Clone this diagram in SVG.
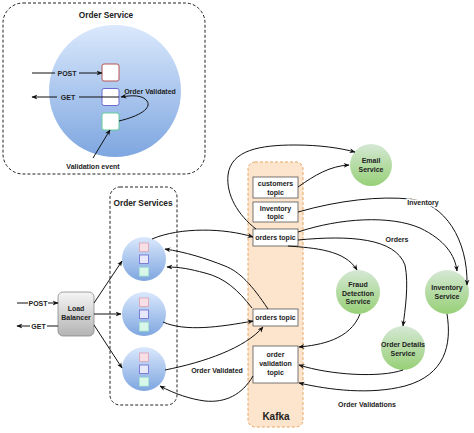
<svg xmlns="http://www.w3.org/2000/svg" width="474" height="433" viewBox="0 0 474 433">
<defs>
<linearGradient id="gb" x1="0" y1="0" x2="0" y2="1"><stop offset="0" stop-color="#dae8fc"/><stop offset="1" stop-color="#7ea6e0"/></linearGradient>
<linearGradient id="gg" x1="0" y1="0" x2="0" y2="1"><stop offset="0" stop-color="#d5e8d4"/><stop offset="1" stop-color="#97d077"/></linearGradient>
<linearGradient id="gl" x1="0" y1="0" x2="0" y2="1"><stop offset="0" stop-color="#f5f5f5"/><stop offset="1" stop-color="#b3b3b3"/></linearGradient>
<marker id="a" viewBox="0 0 10 10" refX="9" refY="5" markerWidth="6" markerHeight="6" orient="auto" markerUnits="userSpaceOnUse"><path d="M0,1 L10,5 L0,9 L3,5 z" fill="#111"/></marker>
<g id="mini">
<rect x="-4.5" y="-16" width="9" height="8.5" fill="#f8dfe6" stroke="#d9a0b0" stroke-width="0.8"/>
<rect x="-4.5" y="-4" width="9" height="8.5" fill="#e8e8fb" stroke="#6a6ad0" stroke-width="0.8"/>
<rect x="-4.5" y="8.5" width="9" height="8.5" fill="#d8f7ea" stroke="#a8e6cc" stroke-width="0.8"/>
</g>
</defs>
<style>
text{font-family:"Liberation Sans",Arial,sans-serif;font-weight:bold;fill:#222;text-anchor:middle}
.s{font-size:7px}
.t{font-size:8.3px}
.dash{fill:none;stroke:#222;stroke-width:1;stroke-dasharray:3,2}
.c{fill:none;stroke:#111;stroke-width:1}
.ar{marker-end:url(#a)}
.topic{fill:#fff;stroke:#555;stroke-width:0.8}
.halo{paint-order:stroke;stroke:#fff;stroke-width:3px}
</style>

<g id="order-service">
<rect x="3" y="3" width="202" height="171" rx="20" class="dash"/>
<text x="106" y="18" class="t">Order Service</text>
<circle cx="115" cy="91" r="66" fill="url(#gb)"/>
<rect x="102" y="64" width="17" height="17" rx="2" fill="#fff" stroke="#b85450" stroke-width="1"/>
<rect x="102" y="88.5" width="17" height="17" rx="2" fill="#fff" stroke="#6a6ad0" stroke-width="1"/>
<rect x="102" y="113" width="17" height="17" rx="2" fill="#fff" stroke="#66cc99" stroke-width="1"/>
<text x="150" y="93.5" class="s">Order Validated</text>
<text x="93" y="169" class="s">Validation event</text>
<text x="67" y="76" class="s">POST</text>
<text x="68" y="100" class="s">GET</text>
</g>

<g id="order-services">
<rect x="110" y="187" width="67" height="218" rx="10" class="dash"/>
<text x="143" y="206" class="t">Order Services</text>
</g>
<g id="os1"><circle cx="144" cy="259" r="22" fill="url(#gb)"/><use href="#mini" x="144" y="259"/></g>
<g id="os2"><circle cx="144" cy="314" r="22" fill="url(#gb)"/><use href="#mini" x="144" y="314"/></g>
<g id="os3"><circle cx="144" cy="369" r="22" fill="url(#gb)"/><use href="#mini" x="144" y="369"/></g>

<g id="load-balancer">
<rect x="58" y="292" width="36" height="44" rx="5" fill="url(#gl)" stroke="#888" stroke-width="0.8"/>
<text x="76" y="311" class="s">Load</text>
<text x="76" y="320" class="s">Balancer</text>
<text x="38" y="305.5" class="s">POST</text>
<text x="38.5" y="328.5" class="s">GET</text>
</g>

<g id="kafka">
<rect x="248" y="162" width="55" height="265" rx="7" fill="#fde4cc" stroke="#e6a865" stroke-width="1" stroke-dasharray="3,2"/>
<text x="276" y="420" style="font-size:10px">Kafka</text>
</g>
<g id="customers-topic"><rect x="253" y="177" width="45" height="21" class="topic"/><text x="275.5" y="186" class="s">customers</text><text x="275.5" y="194.5" class="s">topic</text></g>
<g id="inventory-topic"><rect x="253" y="202" width="45" height="20" class="topic"/><text x="275.5" y="210.5" class="s">Inventory</text><text x="275.5" y="219" class="s">topic</text></g>
<g id="orders-topic-1"><rect x="253" y="229" width="45" height="17" class="topic"/><text x="275.5" y="240" class="s">orders topic</text></g>
<g id="orders-topic-2"><rect x="253" y="309" width="45" height="17" class="topic"/><text x="275.5" y="320" class="s">orders topic</text></g>
<g id="order-validation-topic"><rect x="253" y="346" width="45" height="37" class="topic"/><text x="275.5" y="357" class="s">order</text><text x="275.5" y="366" class="s">validation</text><text x="275.5" y="375" class="s">topic</text></g>

<g id="email-service"><circle cx="371" cy="165" r="21" fill="url(#gg)"/><text x="371" y="163" class="s">Email</text><text x="371" y="172" class="s">Service</text></g>
<g id="fraud-detection-service"><circle cx="358" cy="292" r="22" fill="url(#gg)"/><text x="358" y="287" class="s">Fraud</text><text x="358" y="295.5" class="s">Detection</text><text x="358" y="304" class="s">Service</text></g>
<g id="inventory-service"><circle cx="447" cy="292" r="22" fill="url(#gg)"/><text x="447" y="290" class="s">Inventory</text><text x="447" y="299" class="s">Service</text></g>
<g id="order-details-service"><circle cx="403" cy="348" r="22" fill="url(#gg)"/><text x="403" y="347" class="s">Order Details</text><text x="403" y="356" class="s">Service</text></g>

<g id="connectors">
<path class="c" d="M32,73 H55"/>
<path class="c ar" d="M79,73 H102"/>
<path class="c" d="M119,97 H79"/>
<path class="c ar" d="M57,97 H32"/>
<path class="c ar" d="M119,121 C140,116 152,108 147,101 C143,95 132,95 121,97"/>
<path class="c ar" d="M93,158 L110,130"/>

<path class="c" d="M17,303 H28"/>
<path class="c ar" d="M48,303 H58"/>
<path class="c" d="M58,326 H47"/>
<path class="c ar" d="M30,326 H17"/>
<path class="c ar" d="M94,303 L122,261"/>
<path class="c ar" d="M94,314 L121,314"/>
<path class="c ar" d="M94,325 L122,368"/>

<path class="c ar" d="M152,239 C180,227 225,228 253,237"/>
<path class="c ar" d="M268,309 C252,285 240,272 225,266 C205,258 185,252 165,249"/>
<path class="c ar" d="M252,308 C238,290 225,278 205,273 C190,269 180,267 167,267"/>
<path class="c ar" d="M163,322 C185,332 220,327 253,321"/>
<path class="c ar" d="M165,370 C205,362 245,348 263,327"/>
<path class="c ar" d="M253,376 C242,395 225,403 205,401 C190,399 175,394 160,386"/>

<path class="c ar" d="M256,229 C238,215 226,195 228,175 C231,150 260,145 295,145 C320,145 340,148 355,152"/>
<path class="c ar" d="M298,187 C315,175 330,166 349,165"/>
<path class="c ar" d="M298,212 C340,200 380,196 410,199 C445,203 468,240 467,285"/>
<path class="c ar" d="M298,232 C340,218 390,215 420,228 C445,240 455,255 457,271"/>
<path class="c ar" d="M298,240 C350,235 395,238 405,265 C409,285 405,310 403,326"/>
<path class="c ar" d="M288,246 C315,248 345,250 357,270"/>
<path class="c ar" d="M360,314 C350,340 320,345 299,347"/>
<path class="c ar" d="M403,370 C380,378 330,375 299,365"/>
<path class="c ar" d="M447,314 C452,345 445,375 405,386 C370,395 330,390 299,383"/>
</g>
<text x="423" y="205" class="s halo">Inventory</text>
<text x="397" y="242" class="s">Orders</text>
<text x="217" y="373" class="s">Order Validated</text>
<text x="367" y="407" class="s">Order  Validations</text>
</svg>
